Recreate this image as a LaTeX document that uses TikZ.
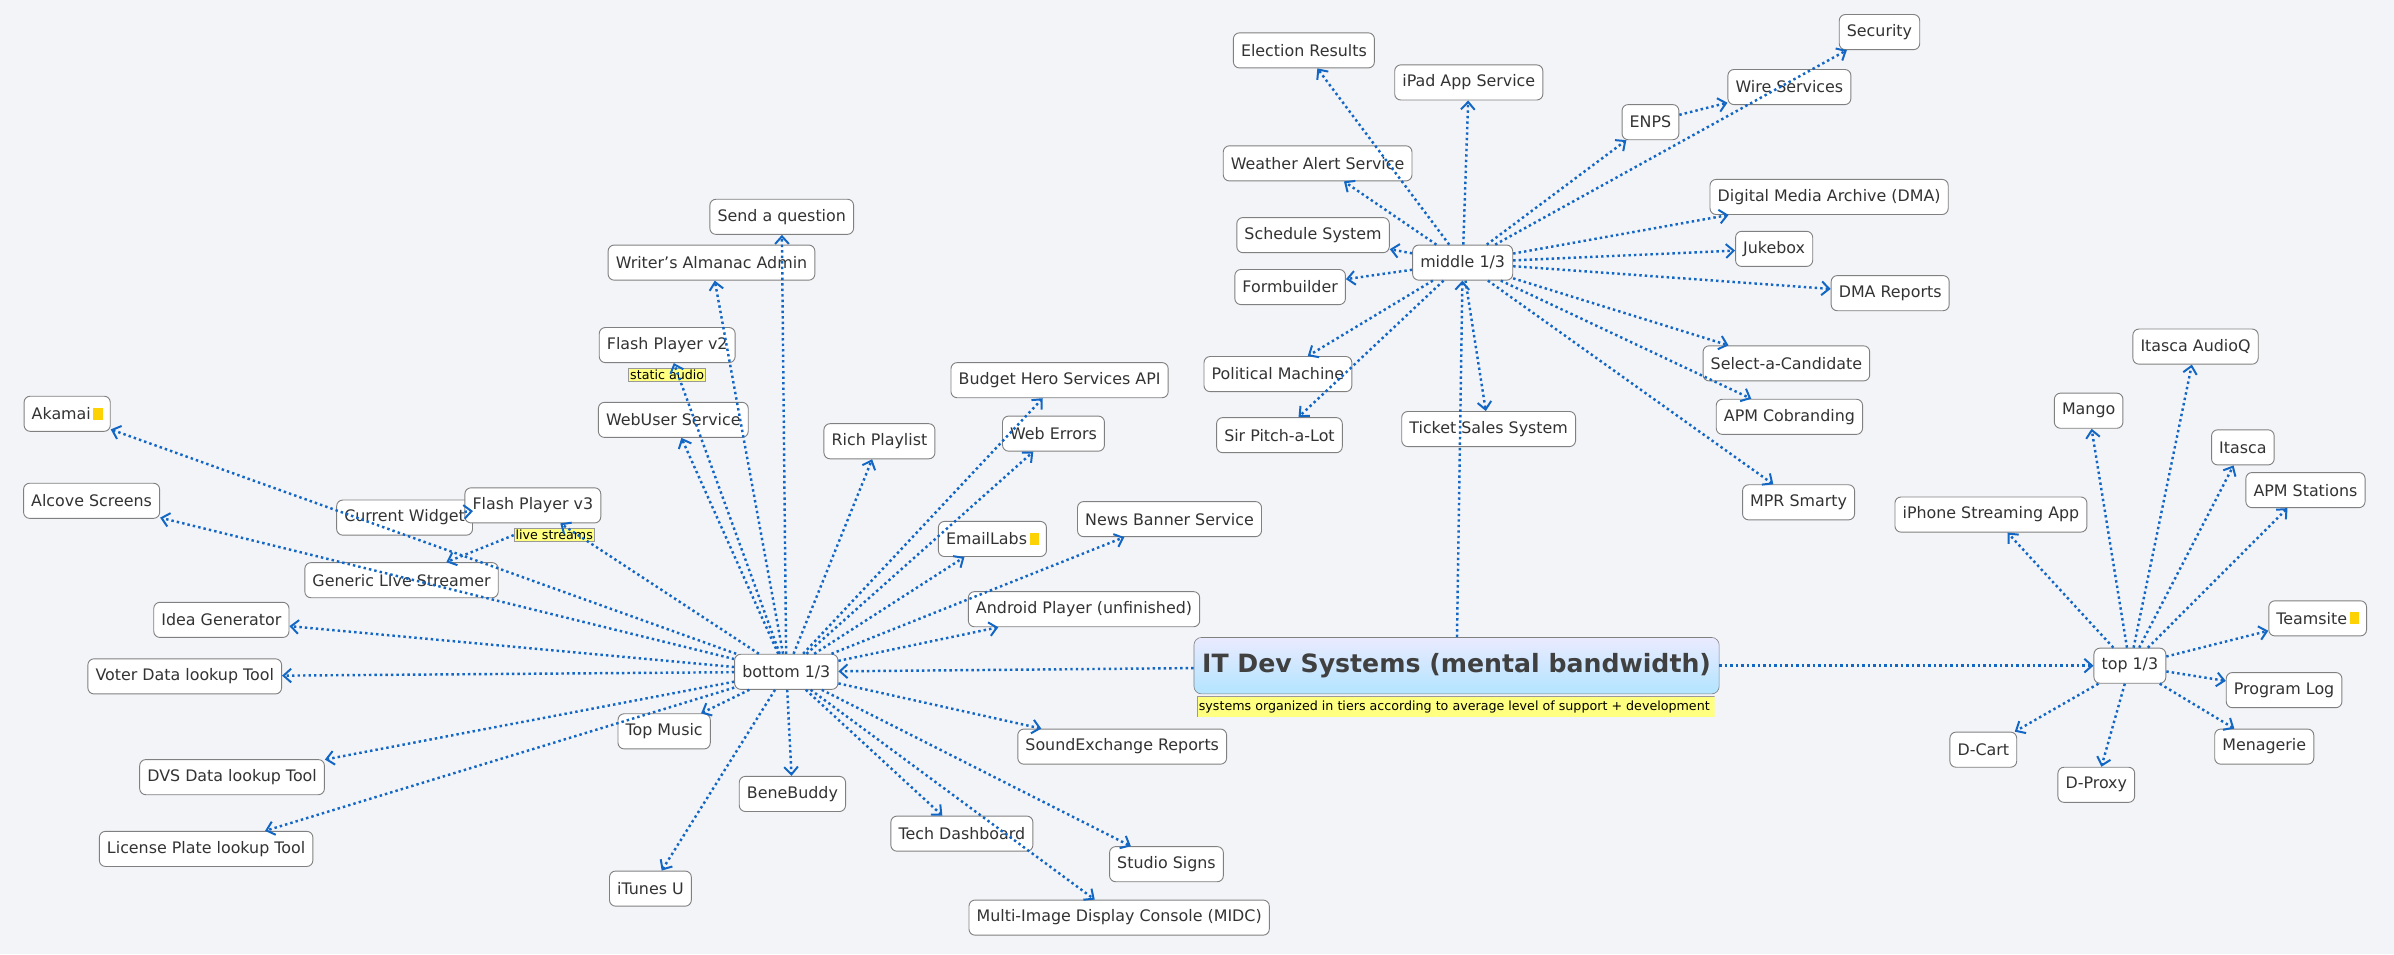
\documentclass[tikz,border=0pt]{standalone}
\usepackage{fontspec}
\setmainfont{DejaVu Sans}
\usetikzlibrary{arrows.meta}
\definecolor{bg}{HTML}{F3F4F8}
\definecolor{ln}{HTML}{1266C4}
\definecolor{bd}{HTML}{808080}
\definecolor{tx}{HTML}{333333}
\definecolor{nt}{HTML}{FFFF80}
\newcommand{\noteicon}{\,{\color{yellow!70!orange}\rule{6pt}{8pt}}}
\tikzset{
 box/.style={draw=bd,fill=white,rounded corners=4pt,font=\fontsize{10.4}{12}\selectfont,text=tx,minimum height=23pt,inner xsep=5pt,line width=0.6pt},
 note/.style={draw=bd!80,fill=nt,font=\fontsize{8.3}{9}\selectfont,inner sep=1pt,line width=0.4pt},
 con/.style={draw=ln,line width=1.6pt,dotted,-{Straight Barb[length=5pt,width=9pt,line width=1.3pt]}}
}
\begin{document}
\begin{tikzpicture}[x=1pt,y=-1pt]
\fill[bg] (0,0) rectangle (1568,625);
\useasboundingbox (0,0) rectangle (1568,625);
% central
\node[draw=bd,rounded corners=5pt,top color=blue!8!white,bottom color=blue!35!cyan!30!white,minimum width=344pt,minimum height=37pt,font=\fontsize{16.5}{18}\bfseries\selectfont,text=black!75] (c) at (954,436) {IT Dev Systems (mental bandwidth)};
\begin{scope}
\clip (784,456) rectangle (1123,469.5);
\node[note,minimum width=339pt,minimum height=13.5pt,anchor=north west,align=left,inner xsep=1pt] (cn) at (784,456) {\makebox[337pt][l]{systems organized in tiers according to average level of support + development}};
\end{scope}
\node[box] (b) at (515,440) {bottom 1/3};
\node[box] (m) at (958,172) {middle 1/3};
\node[box] (t) at (1395,436) {top 1/3};
\foreach \n/\x/\y/\t in {
 sq/512/142/{Send a question}, wa/466/172/{Writer's Almanac Admin}, f2/437/226/{Flash Player v2},
 wu/441/275/{WebUser Service}, ak/44/271/{Akamai\noteicon}, al/60/328/{Alcove Screens},
 cw/265/339/{Current Widget}, f3/349/331/{Flash Player v3}, gl/263/380/{Generic LIve Streamer},
 ig/145/406/{Idea Generator}, vd/121/443/{Voter Data lookup Tool}, dv/152/509/{DVS Data lookup Tool},
 lp/135/556/{License Plate lookup Tool}, tm/435/479/{Top Music}, it/426/582/{iTunes U},
 bb/519/520/{BeneBuddy}, td/630/546/{Tech Dashboard}, mi/733/601/{Multi-Image Display Console (MIDC)},
 ss/764/566/{Studio Signs}, se/735/489/{SoundExchange Reports}, ap/710/399/{Android Player (unfinished)},
 nb/766/340/{News Banner Service}, el/650/353/{EmailLabs\noteicon}, we/690/284/{Web Errors},
 rp/576/289/{Rich Playlist}, bh/694/249/{Budget Hero Services API},
 er/854/33/{Election Results}, ip/962/54/{iPad App Service}, sc/1231/21/{Security},
 ws/1172/57/{Wire Services}, en/1081/80/{ENPS}, wa2/863/107/{Weather Alert Service},
 sy/860/154/{Schedule System}, fb/845/188/{Formbuilder}, pm/837/245/{Political Machine},
 sp/838/285/{Sir Pitch-a-Lot}, ts/975/281/{Ticket Sales System}, dma/1198/129/{Digital Media Archive (DMA)},
 jb/1162/163/{Jukebox}, dr/1238/192/{DMA Reports}, sac/1170/238/{Select-a-Candidate},
 apm/1172/273/{APM Cobranding}, ms/1178/329/{MPR Smarty},
 iq/1438/227/{Itasca AudioQ}, mg/1368/269/{Mango}, itc/1469/293/{Itasca}, as/1510/321/{APM Stations},
 is/1304/337/{iPhone Streaming App}, tsm/1518/405/{Teamsite\noteicon}, pl/1496/452/{Program Log},
 mn/1483/489/{Menagerie}, dc/1299/491/{D-Cart}, dp/1373/514/{D-Proxy}}
 {\node[box] (\n) at (\x,\y) {\t};}
\node[note] (f2n) at (437,245.5) {static audio};
\node[note] (f3n) at (363,350.5) {live streams};
\draw[con] (c) -- (b);
\draw[con] (c) -- (t);
\draw[con] (c) -- (m);
\foreach \n in {sq,wa,f2,wu,ak,al,f3,ig,vd,dv,lp,tm,it,bb,td,mi,ss,se,ap,nb,el,we,rp,bh}
 {\draw[con] (b) -- (\n);}
\draw[con] (f3) -- (cw);
\draw[con] (f3n.west) -- (gl);
\foreach \n in {er,ip,sc,en,wa2,sy,fb,pm,sp,ts,dma,jb,dr,sac,apm,ms}
 {\draw[con] (m) -- (\n);}
\draw[con] (en) -- (ws);
\foreach \n in {iq,mg,itc,as,is,tsm,pl,mn,dc,dp}
 {\draw[con] (t) -- (\n);}
\end{tikzpicture}
\end{document}
